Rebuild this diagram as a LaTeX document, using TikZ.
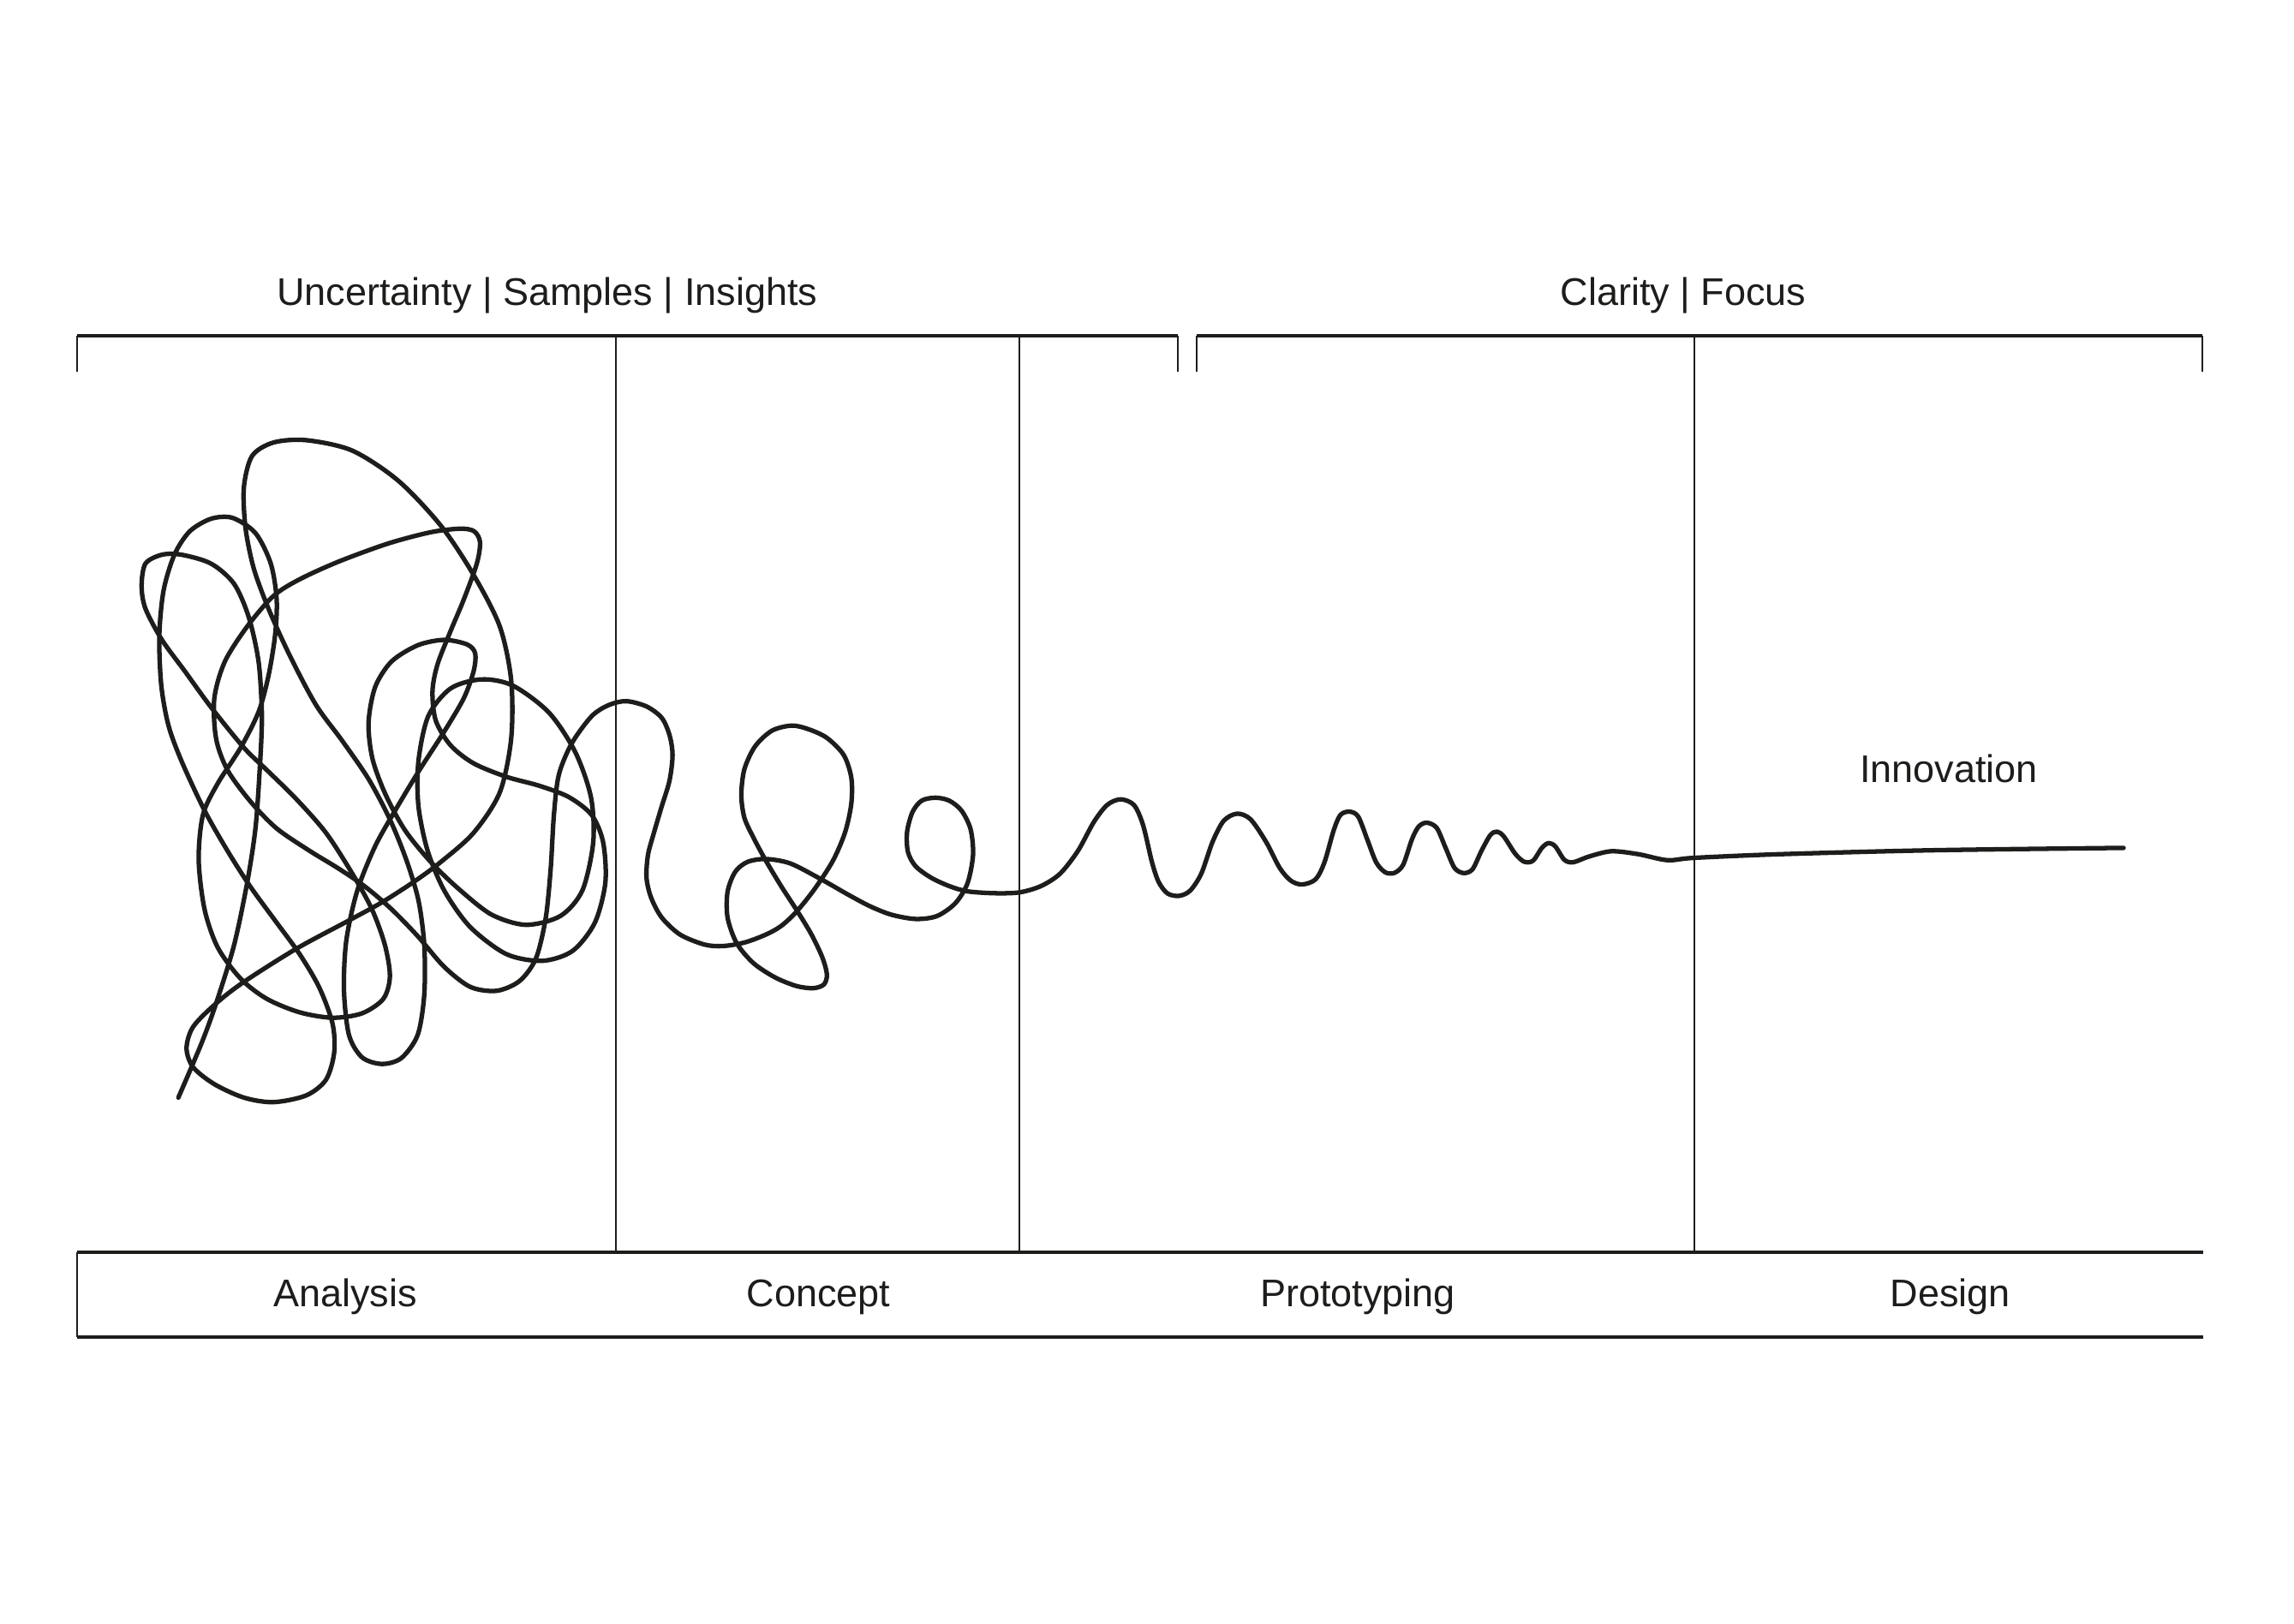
\documentclass[tikz,border=0pt]{standalone}
\usepackage{fontspec}
\setmainfont{Liberation Sans}
\definecolor{ink}{RGB}{29,29,27}
\begin{document}
\begin{tikzpicture}[x=0.01708cm,y=-0.01708cm,
  hline/.style={draw=ink,line width=0.9pt},
  vline/.style={draw=ink,line width=0.6pt},
  thread/.style={draw=ink,line width=1.5pt,line cap=round,line join=round},
  lbl/.style={font=\fontsize{12.8}{15}\selectfont,text=ink,anchor=base,inner sep=0pt}]
\useasboundingbox[fill=white] (0,0) rectangle (1568,1110);

% named corner points
\coordinate (b1l) at (52.5,229.5);
\coordinate (b1r) at (805,229.5);
\coordinate (b2l) at (817.7,229.5);
\coordinate (b2r) at (1505.5,229.5);
\coordinate (bandtl) at (52.5,856);
\coordinate (bandtr) at (1506,856);
\coordinate (bandbl) at (52.5,914);
\coordinate (bandbr) at (1506,914);

% brackets
\draw[vline] (52.5,254) -- (b1l);
\draw[vline] (805,254) -- (b1r);
\draw[vline] (817.7,254) -- (b2l);
\draw[vline] (1505.5,254) -- (b2r);
\draw[hline] (b1l) -- (b1r);
\draw[hline] (b2l) -- (b2r);

% column separators
\foreach \xx/\nm in {421/sa,697/sb,1158/sc}{
  \coordinate (\nm t) at (\xx,229.5);
  \coordinate (\nm b) at (\xx,856);
  \draw[vline] (\nm t) -- (\nm b);
}

% bottom band
\draw[vline] (bandtl) -- (bandbl);
\draw[hline] (bandtl) -- (bandtr);
\draw[hline] (bandbl) -- (bandbr);

% labels
\node[lbl] (top1) at (374,208.8) {Uncertainty | Samples | Insights};
\node[lbl] (top2) at (1150.5,208.8) {Clarity | Focus};
\node[lbl] (inno) at (1332,534.7) {Innovation};
\node[lbl] (ana) at (236,892.9) {Analysis};
\node[lbl] (con) at (559.5,892.9) {Concept};
\node[lbl] (pro) at (928,892.9) {Prototyping};
\node[lbl] (des) at (1333,892.9) {Design};

% the thread
\draw[thread] plot[smooth, tension=0.5] coordinates {
(121.9,750.3) (137.6,713.5) (147.7,685.9) (160.0,646.0) (169.0,603.1) (174.6,566.3)
(177.5,526.4) (179.0,489.6) (176.8,452.8) (170.1,422.1) (160.0,399.1) (144.3,385.3)
(124.1,379.2) (110.7,379.2) (99.4,385.3) (96.8,400.6) (99.4,416.0) (110.7,437.4)
(126.4,458.9) (144.3,483.5) (166.7,511.1) (182.4,526.4) (202.6,546.3) (222.8,569.3)
(240.7,597.0) (254.2,621.5) (263.1,646.0) (266.5,667.5) (262.0,682.8) (247.4,692.7)
(227.3,695.7) (204.8,692.0) (182.4,682.8) (164.5,669.0) (148.8,647.6) (139.8,621.5)
(135.8,587.7) (138.7,557.1) (148.8,535.6) (164.5,511.1) (176.8,486.5) (183.5,462.0)
(188.0,434.4) (189.1,409.8) (185.1,385.3) (174.6,364.4) (158.9,354.0) (144.3,354.6)
(129.7,363.2) (119.2,379.2) (111.8,403.7) (108.9,434.4) (110.2,468.1) (115.1,495.7)
(124.1,520.3) (139.8,554.0) (155.5,581.6) (171.2,606.2) (189.1,630.7) (204.8,652.2)
(218.3,675.2) (227.3,699.7) (228.4,719.7) (222.8,738.1) (209.3,748.8) (186.9,753.4)
(166.7,750.3) (146.5,741.1) (132.0,729.5) (127.5,716.6) (132.0,701.9) (147.7,685.9)
(166.7,671.2) (202.6,648.5) (238.5,629.2) (260.9,616.9) (283.3,602.5) (301.2,589.3)
(323.7,569.3) (341.6,541.7) (349.4,504.9) (349.4,465.0) (341.6,428.2) (323.7,393.0)
(301.2,359.2) (272.1,328.5) (240.7,308.0) (209.3,300.9) (186.9,302.5) (172.3,311.7)
(166.7,333.1) (167.8,360.8) (173.4,388.4) (183.5,416.0) (198.1,448.2) (216.0,481.9)
(234.0,506.5) (251.9,532.5) (266.5,560.1) (277.7,587.7) (286.0,615.4) (290.0,646.0)
(290.0,679.8) (285.5,707.4) (274.3,723.3) (260.9,727.3) (247.4,722.7) (238.5,707.4)
(235.1,676.7) (236.7,643.0) (244.1,609.2) (256.4,578.5) (271.0,552.5) (286.7,526.4)
(303.5,500.3) (317.0,477.3) (323.7,458.9) (324.8,446.6) (319.2,440.5) (303.5,437.4)
(285.5,441.1) (267.6,452.2) (256.4,469.7) (251.9,494.2) (254.6,518.7) (263.6,543.3)
(277.0,567.8) (294.5,589.3) (313.6,607.7) (336.0,625.2) (359.5,632.2) (383.1,626.1)
(398.1,608.6) (405.5,575.5) (403.9,544.8) (393.2,514.1) (375.2,487.1) (350.6,468.7)
(329.3,464.4) (308.0,470.6) (292.7,489.6) (286.0,520.3) (286.0,550.9) (292.3,581.6)
(303.9,609.2) (321.4,633.7) (346.1,652.2) (370.7,656.8) (391.4,650.0) (406.6,630.7)
(413.8,603.1) (412.2,575.5) (404.4,557.1) (388.7,544.8) (368.5,537.1) (346.1,531.0)
(323.7,521.8) (308.0,509.5) (297.9,492.7) (295.6,472.7) (299.0,454.3) (308.0,431.3)
(317.0,409.8) (325.9,385.3) (328.1,370.6) (324.1,363.2) (314.7,361.4) (294.5,363.8)
(265.4,371.5) (231.7,383.8) (204.8,396.0) (186.9,407.4) (169.0,428.2) (153.7,452.2)
(146.5,477.3) (147.7,504.9) (155.5,526.4) (171.2,547.9) (189.1,566.3) (211.6,581.6)
(231.7,593.9) (249.7,606.2) (267.6,621.5) (285.5,639.9) (303.5,660.8) (321.4,674.6)
(339.4,677.3) (355.1,670.6) (366.3,655.2) (373.0,627.6) (376.4,593.9) (378.6,557.1)
(382.0,529.5) (390.9,508.0) (404.4,489.6) (416.0,482.0) (428.0,479.3)
(441.9,482.9) (452.3,490.7) (457.6,502.4) (459.7,516.1) (457.6,533.7) (452.3,551.2)
(447.1,568.8) (442.9,584.4) (441.9,600.0) (445.0,613.5) (452.3,627.2) (464.9,638.9)
(481.6,645.7) (494.1,646.7) (508.8,644.3) (523.4,638.9) (533.9,633.0) (544.3,623.3)
(556.8,607.7) (569.4,588.2) (577.7,568.7) (581.9,549.2) (581.9,531.7) (576.7,516.1)
(565.2,504.4) (552.7,498.5) (541.2,496.0) (527.6,499.5) (516.1,510.2) (508.8,525.8)
(506.7,543.4) (508.8,559.0) (515.0,572.6) (523.4,588.2) (533.9,605.7) (545.3,623.3)
(554.7,638.9) (562.1,654.5) (565.2,666.2) (563.1,673.0) (555.8,675.5) (544.3,674.0)
(529.7,668.1) (515.0,658.4) (503.5,644.7) (497.3,627.2) (497.3,609.6) (502.5,596.0)
(510.9,589.2) (523.4,587.2) (540.1,590.2) (561.0,600.9) (579.8,611.6) (594.5,619.4)
(609.1,625.2) (625.8,628.2) (640.4,626.2) (653.0,617.4) (661.3,603.8) (665.1,584.3)
(663.4,566.8) (657.2,554.1) (648.8,547.3) (639.4,545.3) (630.0,547.3) (623.7,555.1)
(620.0,568.7) (620.6,582.4) (625.8,592.1) (636.3,599.9) (648.8,605.7) (661.3,609.3)
(680.1,610.6) (696.9,610.0) (711.5,605.7) (724.6,597.2)
(736.8,581.6) (747.6,562.0) (756.7,550.3) (765.9,546.4) (775.1,550.3) (781.3,564.0)
(787.4,589.4) (792.0,603.0) (798.1,610.8) (805.8,612.4) (813.4,608.9) (821.1,597.2)
(828.7,575.7) (836.4,561.1) (845.6,556.2) (854.8,560.1) (865.5,575.7) (874.7,593.3)
(882.3,602.0) (890.0,604.6) (899.2,601.1) (905.3,589.4) (911.5,567.9) (916.1,557.2)
(922.2,554.8) (928.3,558.1) (934.5,573.7) (940.6,589.4) (946.7,596.2) (952.8,596.8)
(959.0,591.3) (965.1,573.7) (969.7,565.0) (975.2,562.4) (982.0,565.9) (988.1,579.6)
(994.2,593.3) (1000.4,596.8) (1006.5,594.2) (1012.6,581.6) (1018.7,570.8) (1023.3,568.5)
(1027.9,571.8) (1035.6,583.5) (1041.7,589.0) (1047.8,588.4) (1053.9,579.6) (1058.5,576.3)
(1063.1,578.6) (1069.3,587.8) (1075.4,589.4) (1086.1,585.5) (1101.4,581.9) (1119.8,583.9)
(1139.7,588.0) (1158.1,586.4) (1217.0,583.9) (1321.5,581.2) (1451.5,579.6)
};
\end{tikzpicture}
\end{document}
